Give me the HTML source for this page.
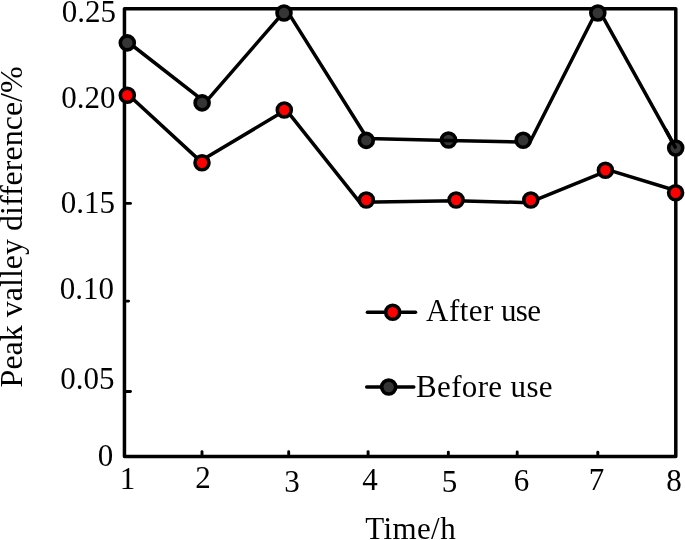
<!DOCTYPE html>
<html>
<head>
<meta charset="utf-8">
<style>
html,body{margin:0;padding:0;background:#fff;}
body{width:685px;height:540px;overflow:hidden;}
svg{display:block;}
text{font-family:"Liberation Serif","Times New Roman",serif;font-size:31px;fill:#000;}
</style>
</head>
<body>
<svg width="685" height="540" viewBox="0 0 685 540">
<rect x="0" y="0" width="685" height="540" fill="#fff"/>
<path d="M124.45 456.5 L124.45 8.7 L675.8 8.7 L675.8 456.5 Z" fill="none" stroke="#000" stroke-width="3.5" stroke-linejoin="round"/>
<g stroke="#000" stroke-width="2.9" fill="none" stroke-linecap="round">
<line x1="124.45" y1="203.4" x2="130.5" y2="203.4"/>
<line x1="124.45" y1="301.1" x2="128.6" y2="301.1"/>
<line x1="124.45" y1="391.5" x2="130.5" y2="391.5"/>
<line x1="202" y1="456.5" x2="202" y2="451.6"/>
<line x1="288.7" y1="456.5" x2="288.7" y2="451.7"/>
<line x1="368.1" y1="456.5" x2="368.1" y2="451.6"/>
<line x1="448.35" y1="456.5" x2="448.35" y2="452.1"/>
<line x1="517.2" y1="456.5" x2="517.2" y2="451.9"/>
<line x1="597.8" y1="456.5" x2="597.8" y2="452.3"/>
</g>
<g text-anchor="end">
<text x="116" y="22">0.25</text>
<text x="115.4" y="108.3">0.20</text>
<text x="115" y="212.7">0.15</text>
<text x="114" y="299.3">0.10</text>
<text x="114.5" y="389.3">0.05</text>
<text x="113.2" y="465.6">0</text>
</g>
<g text-anchor="middle">
<text x="127.5" y="489.3">1</text>
<text x="203" y="488.1">2</text>
<text x="292" y="492.3">3</text>
<text x="370" y="490.2">4</text>
<text x="449.6" y="492.3">5</text>
<text x="521.5" y="491.1">6</text>
<text x="596.5" y="490.2">7</text>
<text x="674" y="491.1">8</text>
</g>
<text x="365.2" y="538.7" style="letter-spacing:0.4px">Time/h</text>
<text transform="translate(22.3,387.4) rotate(-90)" style="font-size:32px">Peak valley difference/%</text>
<g fill="none" stroke="#000" stroke-width="3.5" stroke-linejoin="round" stroke-linecap="round">
<polyline points="127.3,41.5 205.4,102.3 286.2,9.4 367.3,138.5 448.5,140.6 529.9,142.2 598.0,8.2 675.2,147.2"/>
<polyline points="127.3,93.7 200.4,161.1 286.2,109.8 359.8,202.3 456.1,200.7 529.0,202.7 608.9,170.1 675.6,190.5"/>
</g>
<circle cx="127.3" cy="42.9" r="7.0" fill="#353535" stroke="#000" stroke-width="3.6"/><circle cx="202.1" cy="102.9" r="7.0" fill="#353535" stroke="#000" stroke-width="3.6"/><circle cx="284" cy="13" r="7.0" fill="#353535" stroke="#000" stroke-width="3.6"/><circle cx="366.3" cy="140.4" r="7.0" fill="#353535" stroke="#000" stroke-width="3.6"/><circle cx="448.5" cy="140" r="7.0" fill="#353535" stroke="#000" stroke-width="3.6"/><circle cx="523.2" cy="140.2" r="7.0" fill="#353535" stroke="#000" stroke-width="3.6"/><circle cx="597.8" cy="13" r="7.0" fill="#353535" stroke="#000" stroke-width="3.6"/><circle cx="675.7" cy="148" r="7.0" fill="#353535" stroke="#000" stroke-width="3.6"/>
<circle cx="127.3" cy="95.3" r="7.0" fill="#ff0000" stroke="#000" stroke-width="3.6"/><circle cx="202" cy="162.7" r="7.0" fill="#ff0000" stroke="#000" stroke-width="3.6"/><circle cx="284.3" cy="110" r="7.0" fill="#ff0000" stroke="#000" stroke-width="3.6"/><circle cx="366.3" cy="200" r="7.0" fill="#ff0000" stroke="#000" stroke-width="3.6"/><circle cx="456.1" cy="200" r="7.0" fill="#ff0000" stroke="#000" stroke-width="3.6"/><circle cx="530.8" cy="200" r="7.0" fill="#ff0000" stroke="#000" stroke-width="3.6"/><circle cx="605.4" cy="170.2" r="7.0" fill="#ff0000" stroke="#000" stroke-width="3.6"/><circle cx="675.6" cy="192.7" r="7.0" fill="#ff0000" stroke="#000" stroke-width="3.6"/>
<g fill="none" stroke="#000" stroke-width="3.5" stroke-linecap="round">
<polyline points="440,140.4 448.5,140.6 457,140.8"/>
<polyline points="666,130.2 675.2,147.2"/>
</g>
<g fill="none" stroke="#000" stroke-width="3.5" stroke-linecap="round">
<line x1="367.4" y1="312.3" x2="415.5" y2="312.3"/>
<line x1="366.7" y1="387" x2="413.8" y2="387"/>
</g>
<circle cx="392.7" cy="312.2" r="7.0" fill="#ff0000" stroke="#000" stroke-width="3.6"/>
<circle cx="388.7" cy="387" r="7.0" fill="#353535" stroke="#000" stroke-width="3.6"/>
<text x="426" y="321.4"><tspan style="letter-spacing:0.5px">After</tspan><tspan x="500.9" style="letter-spacing:-0.6px">use</tspan></text>
<text x="416" y="397" style="letter-spacing:0.35px">Before use</text>
</svg>
</body>
</html>
